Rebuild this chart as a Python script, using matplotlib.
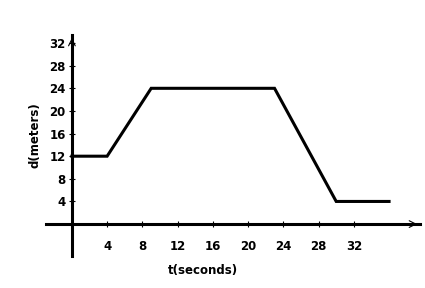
import matplotlib.pyplot as plt

# distance-time graph values
t = [0, 4, 9, 23, 30, 36]
d = [12, 12, 24, 24, 4, 4]
xticks = [4, 8, 12, 16, 20, 24, 28, 32]
yticks = [4, 8, 12, 16, 20, 24, 28, 32]

fig = plt.figure(figsize=(4.25, 2.88), dpi=100)
ax = fig.add_axes([0.108, 0.111, 0.88, 0.767])

ax.plot(t, d, color='black', lw=2.2, solid_joinstyle='miter')

ax.set_xlim(-2.95, 39.5)
ax.set_ylim(-5.65, 33.4)

ax.spines['left'].set_position(('data', 0))
ax.spines['bottom'].set_position(('data', 0))
ax.spines['top'].set_visible(False)
ax.spines['right'].set_visible(False)
for s in ['left', 'bottom']:
    ax.spines[s].set_linewidth(2.2)

ax.set_xticks(xticks)
ax.set_yticks(yticks)
ax.tick_params(direction='inout', length=5, width=0.8, labelsize=8.5)
ax.tick_params(axis='x', pad=9)
ax.tick_params(axis='y', pad=2)
for lab in ax.get_xticklabels() + ax.get_yticklabels():
    lab.set_fontweight('bold')

# arrow heads
ax.annotate('', xy=(39.5, 0), xytext=(37.5, 0),
            arrowprops=dict(arrowstyle='->', lw=0.8, color='black', mutation_scale=12))
ax.annotate('', xy=(0, 33.4), xytext=(0, 30),
            arrowprops=dict(arrowstyle='->', lw=0.8, color='black', mutation_scale=12))

fig.text(0.082, 0.53, 'd(meters)', rotation=90, ha='center', va='center',
         fontsize=8.5, fontweight='bold')
fig.text(0.478, 0.062, 't(seconds)', ha='center', va='center',
         fontsize=8.5, fontweight='bold')

fig.savefig('out.png', dpi=100)
